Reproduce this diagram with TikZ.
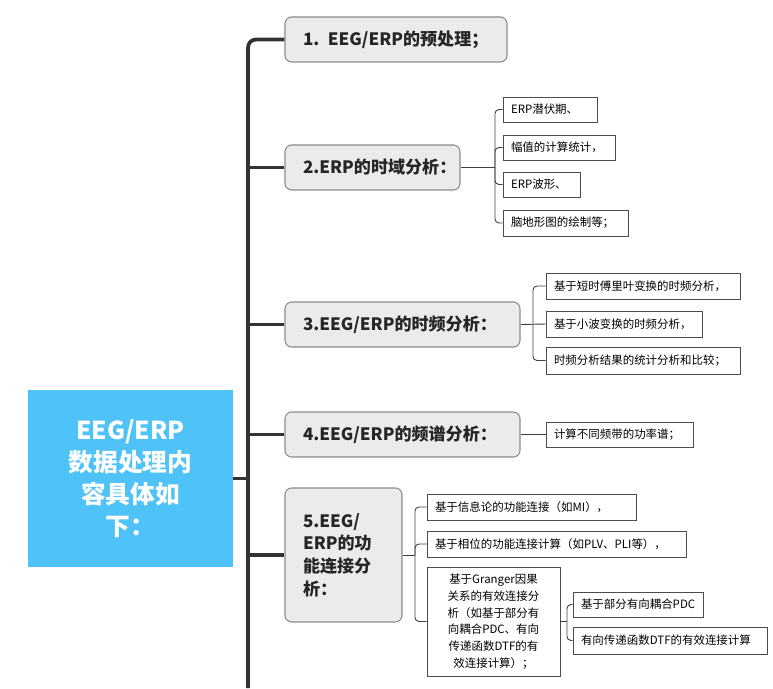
\documentclass[tikz,border=0pt]{standalone}
\usepackage{fontspec}
\setmainfont{Noto Sans CJK SC}
\def\padv{0}
\newcommand\B[7]{\node[#2,minimum width={(#5-#3)*0.75pt},minimum height={(#6-#4)*0.75pt},text width={(#5-#3-2*\padv)*0.75pt}] (#1) at ({(#3+#5)/2},{(#4+#6)/2}) {#7};}
\tikzset{
 pad/.store in=\padv,
 mainbox/.style={pad=18,align=left,draw=black!45,fill=black!8,rounded corners=5pt,inner sep=0pt,font=\fontsize{12.8}{17}\selectfont\bfseries,text=black!85,line width=0.8pt},
 leaf/.style={pad=8,align=left,draw=black!70,fill=white,inner sep=0pt,font=\fontsize{8.6}{12.5}\selectfont,text=black,line width=0.6pt},
 rootbox/.style={pad=4,inner sep=0pt,font=\fontsize{18.5}{24}\selectfont\bfseries,text=white,align=center},
 thin/.style={draw=black!75,line width=0.7pt,rounded corners=3pt},
 spine/.style={draw=black!80,line width=2.8pt,rounded corners=6pt}
}
\begin{document}
\begin{tikzpicture}[x=0.75pt,y=-0.75pt]
\useasboundingbox (0,0) rectangle (773,688);
\B{root}{rootbox,fill={rgb,255:red,79;green,195;blue,247}}{28}{390}{233}{567}{EEG/ERP\\数据处理内\\容具体如\\下：}
\coordinate (sb) at (248,688);
\B{m1}{mainbox}{285}{17}{507}{62}{1. EEG/ERP的预处理；}
\B{m2}{mainbox}{285}{145}{460}{190}{2.ERP的时域分析：}
\B{m3}{mainbox}{285}{302}{520}{347}{3.EEG/ERP的时频分析：}
\B{m4}{mainbox}{285}{412}{520}{457}{4.EEG/ERP的频谱分析：}
\B{m5}{mainbox}{285}{488}{402}{622}{5.EEG/\\ERP的功\\能连接分\\析：}
\draw[spine] (m1.west) -| (sb);
\foreach \m in {m2,m3,m4,m5} \draw[spine,rounded corners=0pt] (248,0 |- \m.west) -- (\m.west);
\draw[spine,rounded corners=0pt] (root.east) -- (248,0 |- root.east);
% children of 2
\B{a1}{leaf}{503}{97}{597}{122}{ERP潜伏期、}
\B{a2}{leaf}{503}{135}{615}{160}{幅值的计算统计，}
\B{a3}{leaf}{503}{172}{580}{197}{ERP波形、}
\B{a4}{leaf}{503}{210}{628}{236}{脑地形图的绘制等；}
\draw[thin] (m2.east) -- (495,0 |- m2.east);
\foreach \l in {a1,a2,a3,a4} \draw[thin] (495,0 |- m2.east) |- (\l.west);
% children of 3
\B{b1}{leaf}{546}{273}{740}{299}{基于短时傅里叶变换的时频分析，}
\B{b2}{leaf}{546}{311}{702}{337}{基于小波变换的时频分析，}
\B{b3}{leaf}{546}{347}{740}{374}{时频分析结果的统计分析和比较；}
\draw[thin] (m3.east) -- (b2.west);
\foreach \l in {b1,b3} \draw[thin] (533,0 |- m3.east) |- (\l.west);
% child of 4
\B{c1}{leaf}{546}{422}{693}{447}{计算不同频带的功率谱；}
\draw[thin] (m4.east) -- (c1.west);
% children of 5
\B{d1}{leaf}{427}{494}{636}{520}{基于信息论的功能连接（如MI），}
\B{d2}{leaf}{427}{531}{686}{557}{基于相位的功能连接计算（如PLV、PLI等），}
\B{d3}{leaf,pad=6,align=center}{427}{567}{560}{676}{基于Granger因果\\关系的有效连接分\\析（如基于部分有\\向耦合PDC、有向\\传递函数DTF的有\\效连接计算）；}
\draw[thin] (m5.east) -- (415,0 |- m5.east);
\foreach \l in {d1,d2,d3} \draw[thin] (415,0 |- m5.east) |- (\l.west);
\B{e1}{leaf}{573}{592}{703}{617}{基于部分有向耦合PDC}
\B{e2}{leaf}{573}{627}{767}{654}{有向传递函数DTF的有效连接计算}
\draw[thin] (d3.east) -- (567,0 |- d3.east);
\foreach \l in {e1,e2} \draw[thin] (567,0 |- d3.east) |- (\l.west);
\end{tikzpicture}
\end{document}
